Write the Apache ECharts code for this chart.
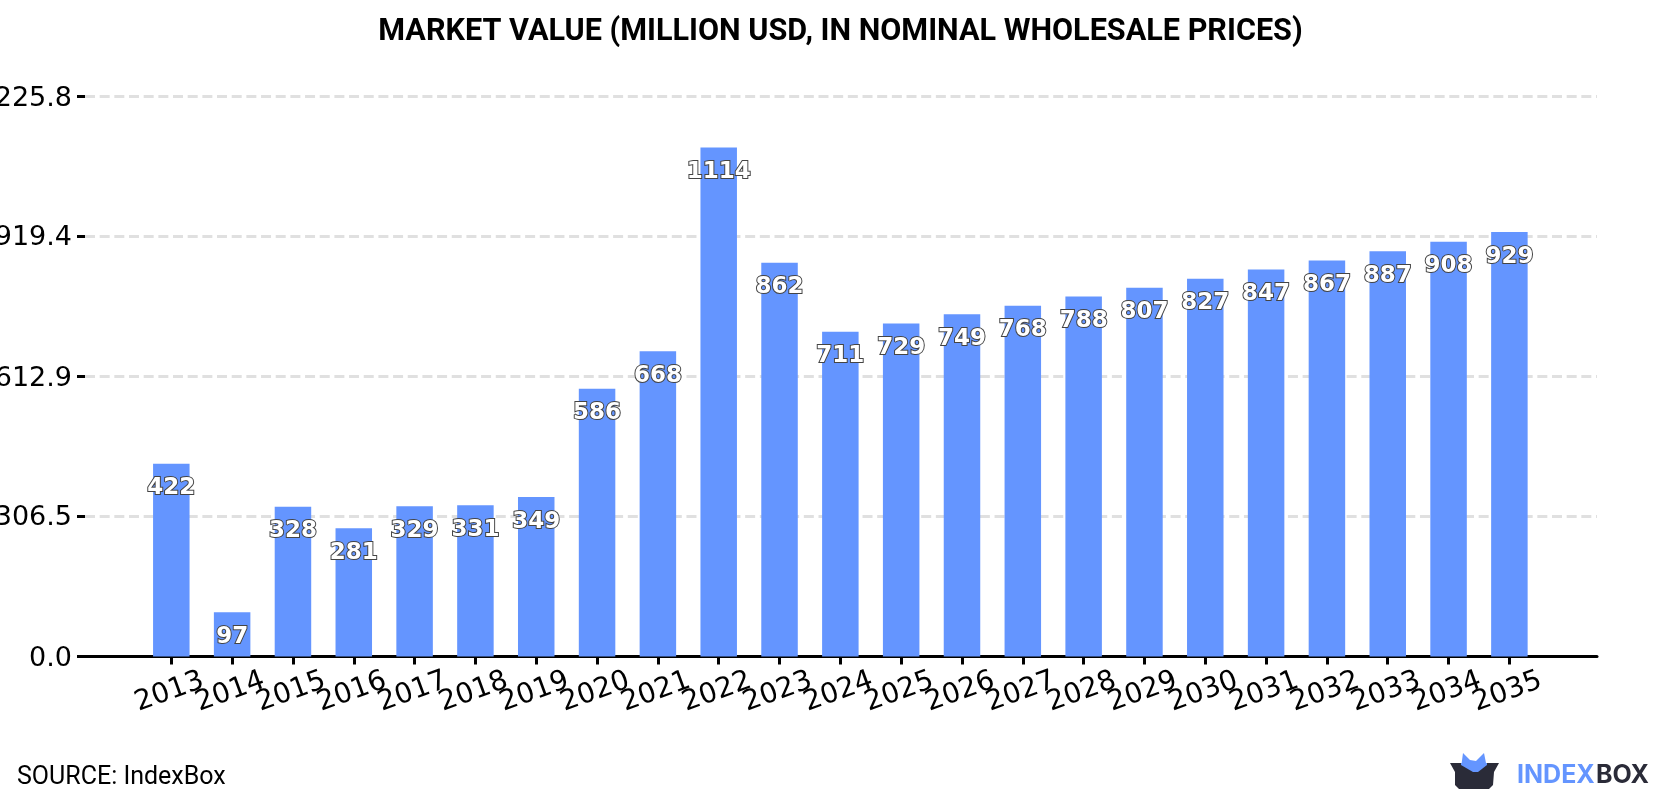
<!DOCTYPE html>
<html>
<head>
<meta charset="utf-8">
<style>html,body{margin:0;padding:0;background:#fff}#chart{width:1680px;height:800px}</style>
<script src="https://cdn.jsdelivr.net/npm/echarts@6/dist/echarts.min.js"></script>
</head>
<body>
<div id="chart"></div>
<script>
const years = ['2013','2014','2015','2016','2017','2018','2019','2020','2021','2022','2023','2024','2025','2026','2027','2028','2029','2030','2031','2032','2033','2034','2035'];
const marketValue = [422,97,328,281,329,331,349,586,668,1114,862,711,729,749,768,788,807,827,847,867,887,908,929];
const yTicks = [0,306.5,612.9,919.4,1225.8];
const yMax = 1225.8;
const titleText = 'MARKET VALUE (MILLION USD, IN NOMINAL WHOLESALE PRICES)';
const sourceText = 'SOURCE: IndexBox';

const chart = echarts.init(document.getElementById('chart'), null, {renderer:'canvas'});
chart.setOption({
  animation:false,
  backgroundColor:'#fff',
  title:{text:titleText,left:835.5,top:12,textAlign:'center',
    textStyle:{fontFamily:'Roboto',fontWeight:'bold',fontSize:30.6,color:'#000'}},
  // Outer grid carries the long baseline, the y scale and the dashed rules;
  // inner grid is inset so the bars sit clear of both ends of the baseline.
  grid:[
    {left:85,right:83,top:96.5,bottom:143.5,outerBoundsMode:'none'},
    {left:140.9,right:140.2,top:96.5,bottom:143.5,outerBoundsMode:'none'}
  ],
  xAxis:[
    {gridIndex:0,type:'value',min:0,max:1,
     splitLine:{show:false},axisTick:{show:false},axisLabel:{show:false},
     axisLine:{show:true,onZero:false,lineStyle:{color:'#000',width:3}}},
    {gridIndex:1,type:'category',data:years,
     splitLine:{show:false},
     axisLine:{show:true,onZero:false,lineStyle:{color:'#000',width:3}},
     axisTick:{show:true,alignWithLabel:true,interval:0,length:8,lineStyle:{color:'#000',width:3}},
     axisLabel:{show:true,interval:0,rotate:20,margin:20,align:'center',verticalAlign:'top',padding:[0,14,0,0],
       fontFamily:'DejaVu Sans',fontSize:28,color:'#000'}}
  ],
  yAxis:[
    {gridIndex:0,type:'value',min:0,max:yMax,
     splitLine:{show:false},
     axisLine:{show:false,onZero:false},
     axisTick:{show:true,length:8,customValues:yTicks,lineStyle:{color:'#000',width:3}},
     axisLabel:{show:true,customValues:yTicks,margin:13,showMinLabel:true,showMaxLabel:true,
       verticalAlign:'top',lineHeight:4,
       fontFamily:'DejaVu Sans',fontSize:27,color:'#000',formatter:v=>v.toFixed(1)}},
    {gridIndex:1,type:'value',min:0,max:yMax,show:false,splitLine:{show:false}}
  ],
  series:[
    {type:'line',xAxisIndex:0,yAxisIndex:0,silent:true,symbol:'none',data:[],
     markLine:{silent:true,symbol:'none',label:{show:false},z:1,
       lineStyle:{color:'#e0e0e0',type:[10,4.67],width:3},
       data:yTicks.slice(1).map(v=>({yAxis:v}))}},
    {type:'bar',xAxisIndex:1,yAxisIndex:1,barWidth:36.5,z:3,
     data:marketValue,
     itemStyle:{color:'#6495ff'},
     label:{show:true,position:'insideTop',distance:0,offset:[0,13],
       fontFamily:'DejaVu Sans',fontWeight:'bold',fontSize:23,
       color:'#fff',textBorderColor:'#444',textBorderWidth:2}}
  ],
  graphic:[
    {type:'text',left:17,top:765,style:{text:sourceText,fontFamily:'Roboto',fontSize:25,fill:'#000'}},
    // IndexBox logo: blue lid flaps behind a dark box, then the wordmark
    {type:'polygon',shape:{points:[[1461,768],[1463,753],[1470,760],[1476,761],[1484,753],[1487,768],[1476,773]]},style:{fill:'#6495ff'}},
    {type:'polygon',shape:{points:[[1450,763],[1471,763],[1477,772],[1485,763],[1499,763],[1494,772],[1493,785],[1489,789],[1459,789],[1455,785],[1455,772]]},style:{fill:'#2a2b38'}},
    {type:'polygon',shape:{points:[[1461,763],[1487,763],[1487,765],[1478,772],[1473,772],[1461,765]]},style:{fill:'#6495ff'}},
    {type:'text',left:1517,top:763,style:{text:'INDEX',fontFamily:'Inter',fontWeight:'bold',fontSize:25,fill:'#6495ff'}},
    {type:'text',left:1596,top:763,style:{text:'BOX',fontFamily:'Inter',fontWeight:'bold',fontSize:25,fill:'#2a2b38'}}
  ]
});
</script>
</body>
</html>
